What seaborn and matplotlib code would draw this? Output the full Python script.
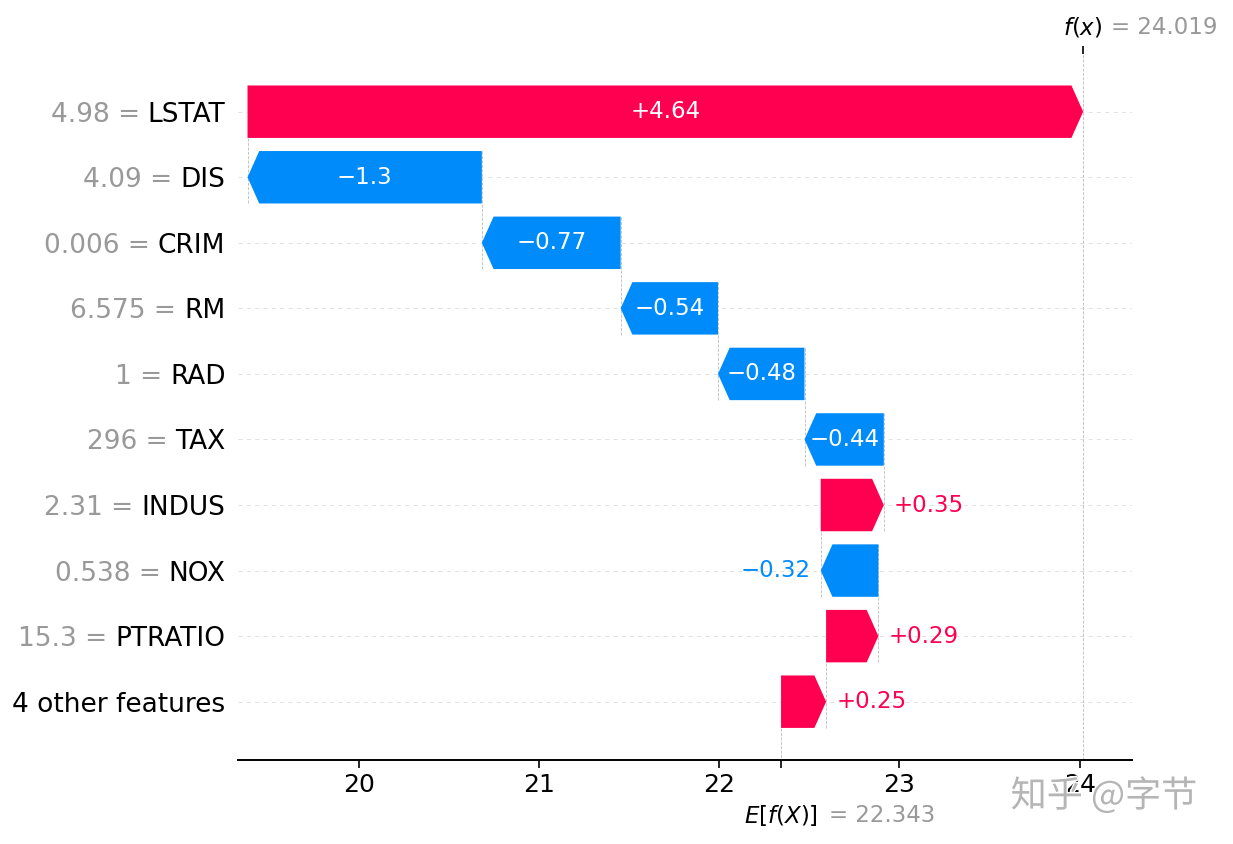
"""
SHAP waterfall plot - Boston housing, single prediction
"""

import numpy as np
import pandas as pd
import matplotlib
matplotlib.use('Agg')
import matplotlib.pyplot as plt
import seaborn as sns
import matplotlib.patheffects as pe

# 数据
features = ['LSTAT', 'DIS', 'CRIM', 'RM', 'RAD', 'TAX', 'INDUS', 'NOX', 'PTRATIO', '4 other features']
feature_values = ['4.98', '4.09', '0.006', '6.575', '1', '296', '2.31', '0.538', '15.3', '']
shap_values = [4.636, -1.3, -0.77, -0.54, -0.48, -0.44, 0.35, -0.32, 0.29, 0.25]
base_value = 22.343
fx_value = 24.019
x_ticks = [20, 21, 22, 23, 24]
watermark = '知乎 @字节'

RED = '#ff0051'
BLUE = '#008bfb'
GRAY = '#999999'

sns.set_style('white')
plt.rcParams['font.family'] = ['DejaVu Sans', 'Noto Sans CJK SC']
plt.rcParams['mathtext.fontset'] = 'dejavusans'


def fmt(v):
    s = '%+0.2f' % v
    s = s.rstrip('0').rstrip('.')
    return s.replace('-', '\u2212')


df = pd.DataFrame({'feature': features, 'value': feature_values, 'shap': shap_values})
n = len(df)
df['y'] = np.arange(n)[::-1]  # LSTAT on top

# 计算每个条的起点（从底部 base 累加）
ends = base_value + np.cumsum(df['shap'].values[::-1])[::-1]
df['end'] = ends
df['start'] = df['end'] - df['shap']

fig = plt.figure(figsize=(12.33, 8.44), dpi=100)
ax = fig.add_axes([0.193, 0.0995, 0.7251, 0.8365])
ax.set_xlim(19.33, 24.29)
ax.set_ylim(-0.89, 9.88)

bar_h = 0.8
head = 0.065

# 网格线
for y in df['y']:
    ax.axhline(y, color='#dddddd', lw=0.6, dashes=(5, 5), zorder=-2)

# 连接线
for _, row in df.iterrows():
    ax.plot([row['start'], row['start']], [row['y'] - 1 - 0.4, row['y'] + 0.4],
            color='#bbbbbb', ls='--', lw=0.6, zorder=-1)
ax.axvline(fx_value, color='#bbbbbb', ls='--', lw=0.6, zorder=-1)

# 箭头条
for _, row in df.iterrows():
    c = RED if row['shap'] > 0 else BLUE
    hl = min(head, abs(row['shap']))
    ax.arrow(row['start'], row['y'], row['shap'], 0, width=bar_h, head_width=bar_h,
             head_length=hl, length_includes_head=True, color=c, linewidth=0, zorder=2)

# y 轴标签：黑色特征名
ax.set_yticks(df['y'])
ax.set_yticklabels(df['feature'], fontsize=19, color='black')
ax.tick_params(axis='y', length=0, pad=9)

ax.set_xticks(x_ticks)
ax.tick_params(axis='x', length=6, width=1.2, labelsize=18, direction='out', bottom=True,
               color='black', labelcolor='black')
sns.despine(ax=ax, left=True, top=True, right=True)
ax.spines['bottom'].set_linewidth(1.4)
ax.spines['bottom'].set_color('black')

# 数值标签：放不下就放到箭头外面
fig.canvas.draw()
renderer = fig.canvas.get_renderer()
for _, row in df.iterrows():
    c = RED if row['shap'] > 0 else BLUE
    mid = (row['start'] + row['end']) / 2
    txt = ax.text(mid, row['y'], fmt(row['shap']), ha='center', va='center',
                  color='white', fontsize=16.5, zorder=3)
    bb = txt.get_window_extent(renderer)
    x0 = ax.transData.transform((min(row['start'], row['end']), 0))[0]
    x1 = ax.transData.transform((max(row['start'], row['end']), 0))[0]
    if bb.width > (x1 - x0) - 4:
        txt.remove()
        if row['shap'] > 0:
            ax.annotate(fmt(row['shap']), xy=(row['end'], row['y']), xytext=(10, 0),
                        textcoords='offset pixels', ha='left', va='center',
                        color=c, fontsize=16.5)
        else:
            ax.annotate(fmt(row['shap']), xy=(row['end'], row['y']), xytext=(-10, 0),
                        textcoords='offset pixels', ha='right', va='center',
                        color=c, fontsize=16.5)

# 灰色特征取值，放在特征名左边
for t, v, y in zip(ax.get_yticklabels(), df['value'], df['y']):
    if not v:
        continue
    bb = t.get_window_extent(renderer)
    ypix = ax.transData.transform((0, y))[1]
    ax.annotate(f'{v} =', xy=(bb.x0 - 8, ypix), xycoords='figure pixels',
                ha='right', va='center_baseline', fontsize=19, color=GRAY,
                annotation_clip=False)

# E[f(X)] 与 f(x) 的刻度
ax2 = ax.twiny()
ax2.set_xlim(ax.get_xlim())
ax2.set_xticks([base_value])
ax2.set_xticklabels([''])
ax2.xaxis.set_ticks_position('bottom')
ax2.tick_params(axis='x', length=6, width=1.2, color='black')
for s in ax2.spines.values():
    s.set_visible(False)

ax3 = ax.twiny()
ax3.set_xlim(ax.get_xlim())
ax3.set_xticks([fx_value])
ax3.set_xticklabels([''])
ax3.xaxis.set_ticks_position('top')
ax3.tick_params(axis='x', length=6, width=1.2, color='black')
for s in ax3.spines.values():
    s.set_visible(False)

ax.annotate('$E[f(X)]$', xy=(base_value, 0), xycoords=('data', 'axes fraction'),
            xytext=(0, -55), textcoords='offset pixels', ha='center', va='center',
            fontsize=16.5, color='black')
ax.annotate('= %.3f' % base_value, xy=(base_value, 0), xycoords=('data', 'axes fraction'),
            xytext=(48, -55), textcoords='offset pixels', ha='left', va='center',
            fontsize=16.5, color=GRAY)
ax.annotate('$f(x)$', xy=(fx_value, 1), xycoords=('data', 'axes fraction'),
            xytext=(0, 27), textcoords='offset pixels', ha='center', va='center',
            fontsize=16.5, color='black')
ax.annotate('= %.3f' % fx_value, xy=(fx_value, 1), xycoords=('data', 'axes fraction'),
            xytext=(28, 27), textcoords='offset pixels', ha='left', va='center',
            fontsize=16.5, color=GRAY)

# 水印
fig.text(1104 / 1233, 1 - 796 / 844, watermark, ha='center', va='center', fontsize=26,
         color='#b5b5b5', family=['Noto Sans CJK SC', 'DejaVu Sans'],
         path_effects=[pe.withStroke(linewidth=2, foreground='white')])

fig.savefig('out.png', dpi=100)
